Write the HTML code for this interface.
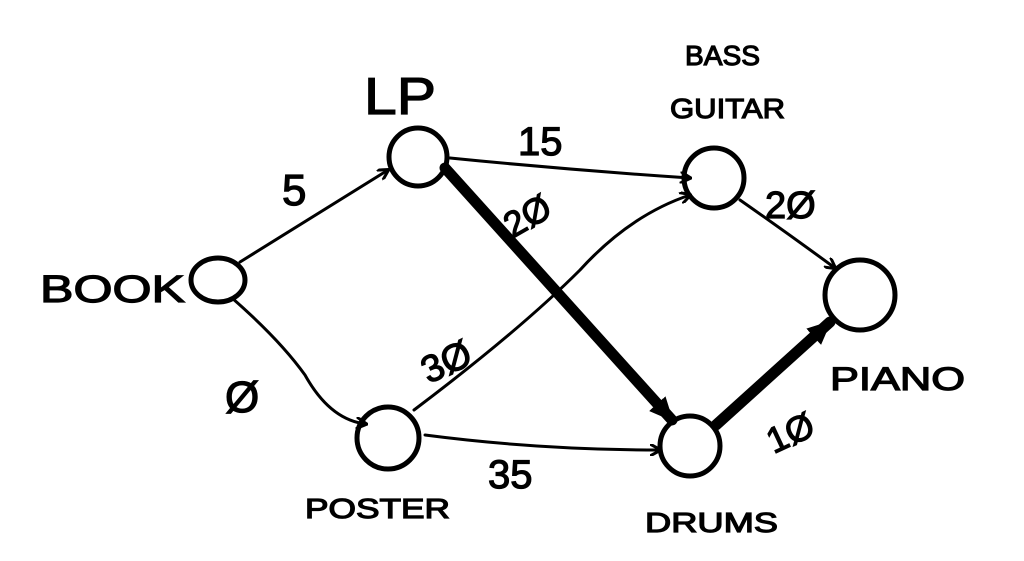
<!DOCTYPE html>
<html><head><style>
html,body{margin:0;padding:0;background:#fff;}
svg{display:block;}
text{font-family:"Liberation Sans",sans-serif;fill:#000;stroke:#000;stroke-width:1.2;}
</style></head><body>
<svg width="1024" height="561" viewBox="0 0 1024 561" xmlns="http://www.w3.org/2000/svg">
<defs>
<marker id="a" markerWidth="12" markerHeight="12" refX="10" refY="6" orient="auto" markerUnits="userSpaceOnUse">
<path d="M0,0 L11,6 L0,12" fill="none" stroke="#000" stroke-width="3"/>
</marker>
<marker id="b" markerWidth="26" markerHeight="26" refX="22" refY="13" orient="auto" markerUnits="userSpaceOnUse">
<path d="M0,2 L24,13 L0,24 Z" fill="#000"/>
</marker>
</defs>
<g fill="none" stroke="#000" stroke-width="3" stroke-linecap="round">
<path d="M240,262 L388,170" marker-end="url(#a)"/>
<path d="M232,298 Q280,340 305,375 Q330,420 366,424" marker-end="url(#a)"/>
<path d="M450,158 Q570,170 690,178" marker-end="url(#a)"/>
<path d="M414,410 Q520,330 580,270 Q630,215 690,195" marker-end="url(#a)"/>
<path d="M425,435 Q540,450 660,450" marker-end="url(#a)"/>
<path d="M740,200 Q790,235 835,268" marker-end="url(#a)"/>
</g>
<g fill="none" stroke="#000" stroke-width="11" stroke-linecap="round">
<path d="M445,168 L672,420" marker-end="url(#b)"/>
<path d="M716,425 L830,322" marker-end="url(#b)"/>
</g>
<g fill="none" stroke="#000" stroke-width="5">
<ellipse cx="218" cy="280" rx="27" ry="22"/>
<circle cx="418" cy="157" r="29"/>
<circle cx="714" cy="178" r="30"/>
<circle cx="860" cy="295" r="35"/>
<circle cx="388" cy="438" r="31"/>
<circle cx="690" cy="446" r="30"/>
</g>
<text x="40" y="302" font-size="38" textLength="145" lengthAdjust="spacingAndGlyphs">BOOK</text>
<text x="364" y="114" font-size="52" textLength="72" lengthAdjust="spacingAndGlyphs">LP</text>
<text x="685" y="65" font-size="28" textLength="75" lengthAdjust="spacingAndGlyphs">BASS</text>
<text x="670" y="118" font-size="28" textLength="115" lengthAdjust="spacingAndGlyphs">GUITAR</text>
<text x="830" y="390" font-size="32" textLength="135" lengthAdjust="spacingAndGlyphs">PIANO</text>
<text x="305" y="518" font-size="28" textLength="145" lengthAdjust="spacingAndGlyphs">POSTER</text>
<text x="645" y="532" font-size="28" textLength="133" lengthAdjust="spacingAndGlyphs">DRUMS</text>
<text x="282" y="205" font-size="44">5</text>
<text x="225" y="412" font-size="44">Ø</text>
<text x="518" y="155" font-size="40">15</text>
<text x="505" y="230" font-size="36" transform="rotate(-30 525 220)">2Ø</text>
<text x="420" y="375" font-size="38" transform="rotate(-25 445 360)">3Ø</text>
<text x="488" y="488" font-size="40">35</text>
<text x="765" y="218" font-size="38">2Ø</text>
<text x="765" y="445" font-size="36" transform="rotate(-25 790 430)">1Ø</text>
</svg>
</body></html>
